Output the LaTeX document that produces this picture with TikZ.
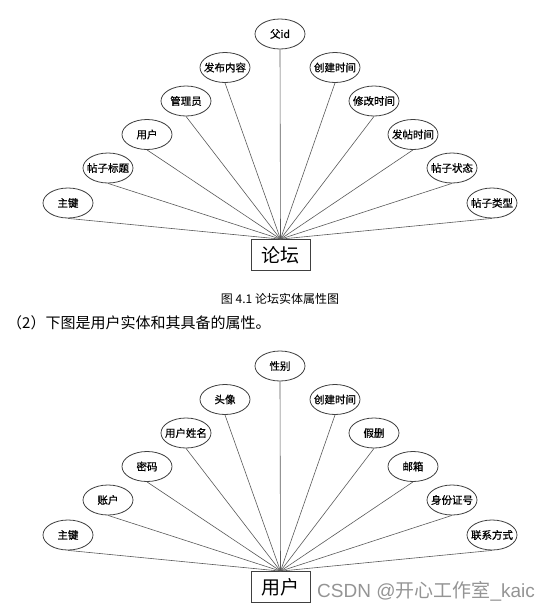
\documentclass[tikz,border=0pt]{standalone}
\usepackage{fontspec}
\setmainfont{Noto Sans CJK SC}
\newfontfamily\wmfont{Liberation Sans}
\newfontfamily\cjkfont{Noto Sans CJK SC}
\newfontfamily\lblfont{Noto Sans CJK SC}[FakeBold=0.8]
\usetikzlibrary{shapes.geometric}
\begin{document}
\begin{tikzpicture}[x=1pt,y=-1pt,
  attr/.style={ellipse, draw=black!75, line width=0.8pt, minimum width=50pt, minimum height=30pt, inner xsep=-10pt, inner ysep=-5pt, font=\lblfont\fontsize{10.5}{10.5}\selectfont},
  ent/.style={rectangle, draw=black!75, line width=0.8pt, minimum width=59pt, minimum height=31pt, inner sep=0pt, font=\fontsize{19}{19}\selectfont},
  link/.style={draw=black!65, line width=0.6pt}]
\useasboundingbox (0,0) rectangle (549,613);

% ---- top diagram ----
\node[ent] (lt) at (280.5,255) {论坛};
\node[attr] (t1) at (68,203) {主键};
\node[attr] (t2) at (108,168) {帖子标题};
\node[attr] (t3) at (147,134.5) {用户};
\node[attr] (t4) at (186,101) {管理员};
\node[attr] (t5) at (225,67.5) {发布内容};
\node[attr] (t6) at (280,34) {父id};
\node[attr] (t7) at (335,67.5) {创建时间};
\node[attr] (t8) at (374,101) {修改时间};
\node[attr] (t9) at (413,134.5) {发帖时间};
\node[attr] (t10) at (452,168) {帖子状态};
\node[attr] (t11) at (492,203) {帖子类型};
\foreach \n in {t1,t2,t3,t4,t5,t6,t7,t8,t9,t10,t11}
  \draw[link] (\n.south) -- (lt.north);

\node (cap) at (280,299) {\fontsize{12}{12}\selectfont 图 4.1 论坛实体属性图};
\node[anchor=west, inner sep=0pt] (intro) at (7,323) {\fontsize{15}{15}\selectfont （2）下图是用户实体和其具备的属性。};

% ---- bottom diagram ----
\node[ent] (yh) at (280.5,587) {用户};
\node[attr] (b1) at (68,535) {主键};
\node[attr] (b2) at (108,500) {账户};
\node[attr] (b3) at (147,466.5) {密码};
\node[attr] (b4) at (186,433) {用户姓名};
\node[attr] (b5) at (225,399.5) {头像};
\node[attr] (b6) at (280,366) {性别};
\node[attr] (b7) at (335,399.5) {创建时间};
\node[attr] (b8) at (374,433) {假删};
\node[attr] (b9) at (413,466.5) {邮箱};
\node[attr] (b10) at (452,500) {身份证号};
\node[attr] (b11) at (492,535) {联系方式};
\foreach \n in {b1,b2,b3,b4,b5,b6,b7,b8,b9,b10,b11}
  \draw[link] (\n.south) -- (yh.north);

\node[anchor=west, inner sep=0pt, text=black!42] (wm) at (317,591) {\fontsize{19}{19}\selectfont\wmfont CSDN @\cjkfont 开心工作室\wmfont \_kaic};
\end{tikzpicture}
\end{document}
